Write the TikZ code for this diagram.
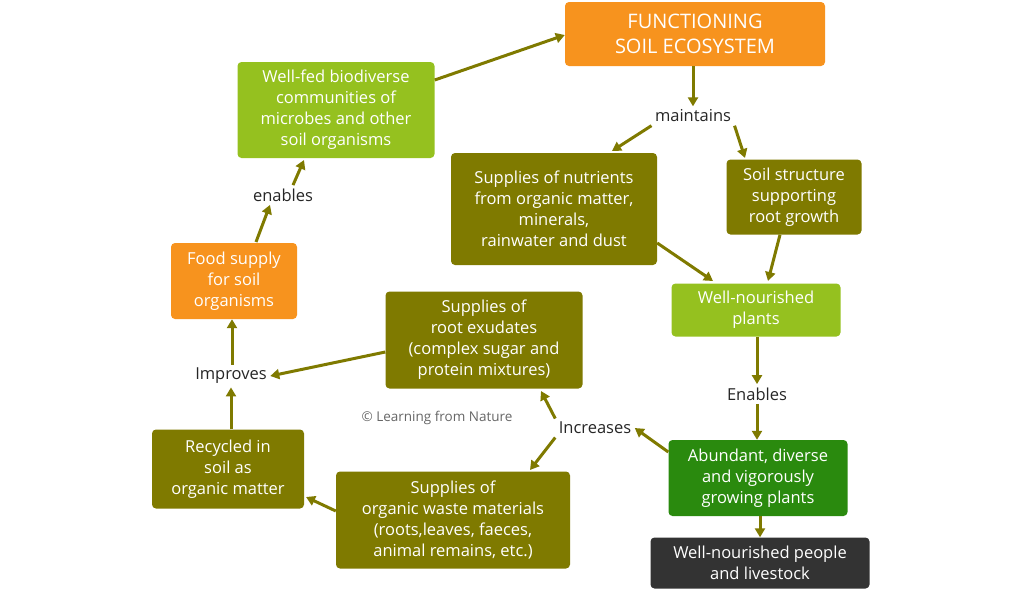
\documentclass[tikz,border=0pt]{standalone}
\usepackage{fontspec}
\setmainfont{Open Sans}
\usetikzlibrary{arrows.meta}
\definecolor{orng}{HTML}{F7931E}
\definecolor{lgrn}{HTML}{95C11F}
\definecolor{olv}{HTML}{7F7A00}
\definecolor{dgrn}{HTML}{2A8A0E}
\definecolor{dgry}{HTML}{333333}
\definecolor{arr}{HTML}{7F7A00}
\begin{document}
\begin{tikzpicture}[x=1pt,y=-1pt,
 box/.style={rounded corners=4pt,text=white,align=center,inner sep=2pt,font=\fontsize{16.5}{21}\selectfont},
 lbl/.style={text=black!85,font=\fontsize{16.5}{20}\selectfont},
 ar/.style={arr,line width=3pt,-{Triangle[length=9pt,width=10pt]}}]
\useasboundingbox (0,0) rectangle (1024,592);
\node[box,fill=orng,minimum width=260pt,minimum height=64pt,font=\fontsize{20}{25}\selectfont] (fse) at (695,34) {FUNCTIONING\\SOIL ECOSYSTEM};
\node[box,fill=lgrn,minimum width=197pt,minimum height=96pt] (wf) at (336,110) {Well-fed biodiverse\\communities of\\microbes and other\\soil organisms};
\node[lbl] (mt) at (693,116) {maintains};
\node[box,fill=olv,minimum width=206pt,minimum height=112pt] (sn) at (554,209) {Supplies of nutrients\\from organic matter,\\minerals,\\rainwater and dust};
\node[box,fill=olv,minimum width=135pt,minimum height=75pt] (ss) at (794,197) {Soil structure\\supporting\\root growth};
\node[lbl] (en) at (283,195) {enables};
\node[box,fill=orng,minimum width=126pt,minimum height=76pt] (fs) at (234,281) {Food supply\\for soil\\organisms};
\node[box,fill=lgrn,minimum width=169pt,minimum height=53pt] (wp) at (756,310) {Well-nourished\\plants};
\node[box,fill=olv,minimum width=197pt,minimum height=97pt] (re) at (484,340) {Supplies of\\root exudates\\(complex sugar and\\protein mixtures)};
\node[lbl] (im) at (231,376) {Improves};
\node[lbl] (En) at (757,394) {Enables};
\node[text=black!60,font=\fontsize{13.5}{16}\selectfont] (cp) at (437,418) {© Learning from Nature};
\node[lbl] (in) at (595,428) {Increases};
\node[box,fill=olv,minimum width=152pt,minimum height=79pt] (rc) at (228,469) {Recycled in\\soil as\\organic matter};
\node[box,fill=dgrn,minimum width=179pt,minimum height=76pt] (ab) at (758,478) {Abundant, diverse\\and vigorously\\growing plants};
\node[box,fill=olv,minimum width=234pt,minimum height=97pt] (ow) at (453,520) {Supplies of\\organic waste materials\\(roots,leaves, faeces,\\animal remains, etc.)};
\node[box,fill=dgry,minimum width=219pt,minimum height=51pt] (pp) at (760,563) {Well-nourished people\\and livestock};
\draw[ar] (wf.east|-0,80) -- (fse.west|-0,35);
\draw[ar] (fse.south-|693,0) -- (mt.north);
\draw[ar] (mt.south west) -- (612,151);
\draw[ar] (mt.south east) -- (745,158);
\draw[ar] (sn.east|-0,243) -- (713,281);
\draw[ar] (ss.south-|780,0) -- (768,281);
\draw[ar] (wp.south-|757,0) -- (En.north);
\draw[ar] (En.south) -- (ab.north-|757,0);
\draw[ar] (ab.west|-0,452) -- (in.east);
\draw[ar] (in.north west) -- (541,391);
\draw[ar] (in.south west) -- (530,470);
\draw[ar] (ab.south-|760,0) -- (pp.north-|760,0);
\draw[ar] (ow.west|-0,511) -- (306,497);
\draw[ar] (rc.north-|231,0) -- (im.south-|231,0);
\draw[ar] (re.west|-0,352) -- (im.east);
\draw[ar] (im.north-|232,0) -- (fs.south-|232,0);
\draw[ar] (256,242) -- (en.south-|270,0);
\draw[ar] (en.north-|293,0) -- (304,160);
\end{tikzpicture}
\end{document}
